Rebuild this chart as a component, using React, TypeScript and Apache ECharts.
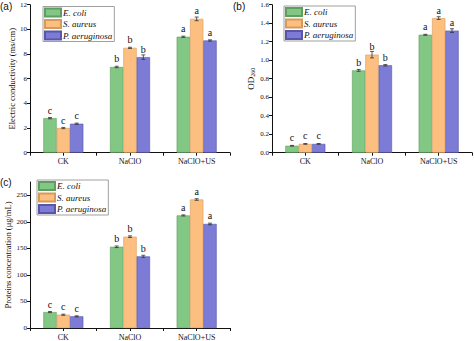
import React, { useEffect, useRef } from "react";
import * as echarts from "echarts";

const categories = ["CK", "NaClO", "NaClO+US"];
const seriesNames = ["E. coli", "S. aureus", "P. aeruginosa"];
const colors = ["#83c785", "#fdbf80", "#7c7bd6"];
const borders = ["#5e9e60", "#d69a5a", "#5756a8"];

// Panel (a) Electric conductivity
const condEcoli = [2.8, 6.95, 9.4];
const condSaureus = [2.0, 8.5, 10.85];
const condPaer = [2.35, 7.75, 9.1];
const condErrEcoli = [0.05, 0.06, 0.05];
const condErrSaureus = [0.05, 0.05, 0.15];
const condErrPaer = [0.05, 0.18, 0.05];

// Panel (b) OD260
const odEcoli = [0.075, 0.89, 1.275];
const odSaureus = [0.095, 1.06, 1.455];
const odPaer = [0.095, 0.945, 1.32];
const odErrEcoli = [0.004, 0.01, 0.005];
const odErrSaureus = [0.004, 0.035, 0.015];
const odErrPaer = [0.004, 0.008, 0.02];

// Panel (c) Proteins concentration
const protEcoli = [30, 153, 212];
const protSaureus = [25, 172, 242];
const protPaer = [22, 135, 196];
const protErrEcoli = [1, 1.5, 1];
const protErrSaureus = [1, 1.5, 1.5];
const protErrPaer = [1, 2, 1.5];

const letters = ["c", "b", "a"];

const yTicksC = [0, 50, 100, 150, 200, 250];

const SERIF = "'Liberation Serif', 'Times New Roman', serif";
const SANS = "'Liberation Sans', Arial, sans-serif";

export default function App() {
  const ref = useRef<HTMLDivElement>(null);
  useEffect(() => {
    if (!ref.current) return;
    const chart = echarts.init(ref.current, undefined, { renderer: "svg" });

    const panels = [
      { vals: [condEcoli, condSaureus, condPaer], errs: [condErrEcoli, condErrSaureus, condErrPaer] },
      { vals: [odEcoli, odSaureus, odPaer], errs: [odErrEcoli, odErrSaureus, odErrPaer] },
      { vals: [protEcoli, protSaureus, protPaer], errs: [protErrEcoli, protErrSaureus, protErrPaer] },
    ];

    const grids = [
      { left: 30, top: 4.7, width: 200, height: 148 },
      { left: 272, top: 4.7, width: 200, height: 148 },
      { left: 30, top: 182, width: 200, height: 147 },
    ];

    const xAxis: any[] = [];
    grids.forEach((_, gi) => {
      xAxis.push({
        type: "category",
        gridIndex: gi,
        data: categories,
        axisLine: { lineStyle: { color: "#111", width: 1 } },
        axisTick: { show: false },
        axisLabel: { fontFamily: SERIF, fontSize: 8, color: "#111", margin: 5 },
      });
    });
    grids.forEach((_, gi) => {
      xAxis.push({
        type: "category",
        gridIndex: gi,
        data: ["", "", "", "", "", ""],
        position: "bottom",
        axisLine: { show: false },
        axisTick: { show: true, length: 3, lineStyle: { color: "#111" } },
        axisLabel: { show: false },
      });
    });

    const yCommon = {
      type: "value",
      axisLine: { show: true, lineStyle: { color: "#111", width: 1 } },
      axisTick: { show: true, length: 3, lineStyle: { color: "#111" } },
      splitLine: { show: false },
      nameLocation: "middle",
      nameTextStyle: { fontFamily: SERIF, fontSize: 8.5, color: "#111" },
      axisLabel: { fontFamily: SERIF, fontSize: 7, color: "#111", margin: 3 },
    };

    const yAxis: any[] = [
      {
        ...yCommon,
        gridIndex: 0,
        min: 0,
        max: 12,
        interval: 2,
        name: "Electric conductivity (ms/cm)",
        nameGap: 13,
      },
      {
        ...yCommon,
        gridIndex: 1,
        min: 0,
        max: 1.6,
        interval: 0.2,
        name: "{a|OD}{b|260}",
        nameGap: 13,
        nameTextStyle: {
          rich: {
            a: { fontFamily: SERIF, fontSize: 9, color: "#111" },
            b: { fontFamily: SERIF, fontSize: 6, color: "#111", verticalAlign: "bottom", padding: [4, 0, 0, 0] },
          },
        },
        axisLabel: { ...yCommon.axisLabel, formatter: (v: number) => v.toFixed(1) },
      },
      {
        ...yCommon,
        gridIndex: 2,
        min: 0,
        max: 275,
        interval: 50,
        name: "Proteins concentration (μg/mL)",
        nameGap: 15,
        axisTick: { ...yCommon.axisTick, customValues: yTicksC },
        axisLabel: { ...yCommon.axisLabel, customValues: yTicksC },
      },
    ];

    const series: any[] = [];
    panels.forEach((p, gi) => {
      p.vals.forEach((vals, k) => {
        series.push({
          type: "bar",
          name: seriesNames[k],
          xAxisIndex: gi,
          yAxisIndex: gi,
          data: vals,
          barWidth: "20%",
          barGap: "0%",
          itemStyle: { color: colors[k], borderColor: borders[k], borderWidth: 0.6 },
          label: {
            show: true,
            position: "top",
            distance: 3,
            color: "#111",
            textBorderWidth: 0,
            formatter: (params: any) => "{l|" + letters[params.dataIndex] + "}",
            rich: {
              l: { fontFamily: SERIF, fontSize: 10, color: "#111", textBorderWidth: 0 },
            },
          },
          z: 2,
        });
      });
      const errData: any[] = [];
      p.vals.forEach((vals, k) => {
        vals.forEach((v, ci) => errData.push([ci, v, p.errs[k][ci], k]));
      });
      series.push({
        type: "custom",
        xAxisIndex: gi,
        yAxisIndex: gi,
        data: errData,
        encode: { x: 0, y: 1 },
        silent: true,
        z: 5,
        renderItem: (params: any, api: any) => {
          const ci = api.value(0);
          const v = api.value(1);
          const e = api.value(2);
          const k = api.value(3);
          const bw = api.size([1, 0])[0] * 0.2;
          const cx = api.coord([ci, v])[0] + (k - 1) * bw;
          const yt = api.coord([ci, v + e])[1];
          const yb = api.coord([ci, v - e])[1];
          const cap = 2;
          const st = { stroke: "#333", lineWidth: 0.8 };
          return {
            type: "group",
            children: [
              { type: "line", shape: { x1: cx, y1: yt, x2: cx, y2: yb }, style: st },
              { type: "line", shape: { x1: cx - cap, y1: yt, x2: cx + cap, y2: yt }, style: st },
              { type: "line", shape: { x1: cx - cap, y1: yb, x2: cx + cap, y2: yb }, style: st },
            ],
          };
        },
      });
    });

    const legendPos = [
      { left: 43, top: 6.5 },
      { left: 284, top: 6 },
      { left: 37, top: 180 },
    ];
    const legend = legendPos.map((pos) => ({
      ...pos,
      orient: "vertical",
      data: seriesNames,
      selectedMode: false,
      icon: "rect",
      itemWidth: 16,
      itemHeight: 8,
      itemGap: 1.5,
      padding: [1, 2, 1, 1],
      borderColor: "#888",
      borderWidth: 0.8,
      textStyle: {
        fontFamily: SERIF,
        fontStyle: "italic",
        fontSize: 9,
        color: "#111",
        padding: [0, 0, 0, -3],
      },
    }));

    chart.setOption({
      animation: false,
      backgroundColor: "#fff",
      grid: grids,
      xAxis,
      yAxis,
      series,
      legend,
      graphic: [
        { type: "text", left: 0, top: 1, style: { text: "(a)", font: `10px ${SANS}`, fill: "#111" } },
        { type: "text", left: 233, top: 1, style: { text: "(b)", font: `10px ${SANS}`, fill: "#111" } },
        { type: "text", left: 0, top: 177, style: { text: "(c)", font: `10px ${SANS}`, fill: "#111" } },
      ],
    });

    return () => chart.dispose();
  }, []);

  return (
    <div
      ref={ref}
      style={{ position: "fixed", left: 0, top: 0, width: 474, height: 341, background: "#fff" }}
    />
  );
}
